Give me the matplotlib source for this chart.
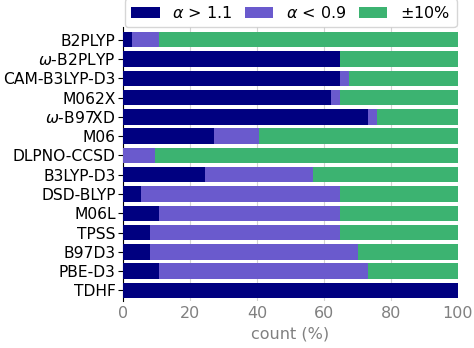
import numpy as np
import matplotlib
matplotlib.use("Agg")
import matplotlib.pyplot as plt

methods = ["B2PLYP", r"$\omega$-B2PLYP", "CAM-B3LYP-D3", "M062X", r"$\omega$-B97XD",
           "M06", "DLPNO-CCSD", "B3LYP-D3", "DSD-BLYP", "M06L", "TPSS", "B97D3",
           "PBE-D3", "TDHF"]
over = np.array([2.7, 64.9, 64.9, 62.2, 73.0, 27.0, 0.0, 24.3, 5.4, 10.8, 8.1, 8.1, 10.8, 100.0])
under = np.array([8.1, 0.0, 2.7, 2.7, 2.7, 13.5, 9.5, 32.4, 59.5, 54.1, 56.8, 62.2, 62.2, 0.0])
within = 100.0 - over - under

fig, ax = plt.subplots(figsize=(4.74, 3.48), dpi=100)
y = np.arange(len(methods))
h = 0.8
ax.barh(y, over, height=h, color="navy", label=r"$\alpha$ > 1.1", zorder=3)
ax.barh(y, under, left=over, height=h, color="slateblue", label=r"$\alpha$ < 0.9", zorder=3)
ax.barh(y, within, left=over + under, height=h, color="mediumseagreen", label=r"$\pm$10%", zorder=3)

ax.set_yticks(y)
ax.set_yticklabels(methods, fontsize=11.2)
ax.set_ylim(len(methods) - 0.45, -0.65)
ax.set_xlim(0, 100)
ax.set_xticks([0, 20, 40, 60, 80, 100])
ax.tick_params(axis="x", colors="gray", labelsize=11.5, length=0)
ax.tick_params(axis="y", pad=2)
ax.set_xlabel("count (%)", color="gray", fontsize=11.5)
ax.grid(axis="x", color="lightgray", linewidth=0.8, zorder=0)
for s in ["top", "right", "bottom"]:
    ax.spines[s].set_visible(False)

ax.legend(loc="lower center", bbox_to_anchor=(0.5, 1.0), ncol=3, fontsize=11.5,
          handlelength=1.8, columnspacing=0.75, borderaxespad=0.0)

fig.subplots_adjust(left=0.26, right=0.966, top=0.922, bottom=0.135)
fig.savefig("out.png")
